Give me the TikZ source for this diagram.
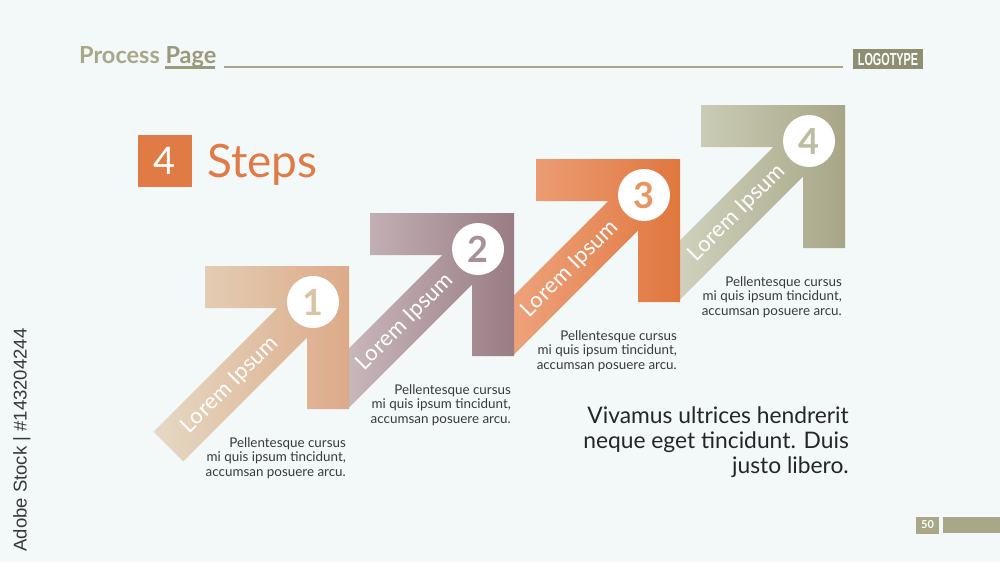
\documentclass[tikz,border=0pt]{standalone}
\usepackage{fontspec}
\setmainfont{Lato}
\newfontfamily\sidefont{Liberation Sans}
\definecolor{bg}{HTML}{F3F8F8}
\definecolor{olive}{HTML}{A8A787}
\definecolor{oliveD}{HTML}{9A997A}
\definecolor{logo}{HTML}{8E8E70}
\definecolor{orng}{HTML}{E07B45}
\definecolor{txtgray}{HTML}{3A3A3A}
\definecolor{aOl}{HTML}{E5D9C4}
\definecolor{aOr}{HTML}{DDAA88}
\definecolor{aOn}{HTML}{D9C4A6}
\definecolor{aSl}{HTML}{D0C1C5}
\definecolor{aSr}{HTML}{997C84}
\definecolor{aSn}{HTML}{A99096}
\definecolor{aTl}{HTML}{F0A985}
\definecolor{aTr}{HTML}{E0773F}
\definecolor{aTn}{HTML}{E99463}
\definecolor{aFl}{HTML}{D7D9C6}
\definecolor{aFr}{HTML}{A7A687}
\definecolor{aFn}{HTML}{BDBDA2}
\begin{document}
\begin{tikzpicture}[x=1pt,y=-1pt,
  bodytext/.style={font=\fontsize{13.4}{14.5}\selectfont, text=txtgray, align=right, inner sep=0, anchor=north east},
  lorem/.style={font=\fontsize{22}{22}\selectfont\addfontfeatures{LetterSpace=1.5}, text=white, rotate=45, inner sep=0},
  numcirc/.style={circle, fill=white, minimum size=52pt, inner sep=0, font=\fontsize{36}{36}\selectfont\bfseries},
  oliverule/.style={draw=olive, line width=2.7pt}]
\useasboundingbox (0,0) rectangle (1000,562);
\fill[bg] (0,0) rectangle (1000,562);
% header
\node[anchor=base west, inner sep=0, text=olive, font=\fontsize{23.5}{23.5}\selectfont\bfseries] (title) at (79,63) {Process \textcolor{oliveD}{Page}};
\coordinate (ul1) at (165,67.5);
\coordinate (ul2) at (215,67.5);
\draw[draw=oliveD, line width=2.5pt] (ul1) -- (ul2);
\coordinate (hl1) at (224,67);
\coordinate (hl2) at (843,67);
\draw[oliverule] (hl1) -- (hl2);
\node[fill=logo, minimum width=70pt, minimum height=20pt, inner sep=0, text=white, font=\sidefont\bfseries\fontsize{17.5}{17.5}\selectfont] (logo) at (888,59) {\scalebox{0.62}[1]{LOGOTYPE}};
% 4 Steps
\node[fill=orng, minimum width=54pt, minimum height=52pt, inner sep=0, text=white, font=\fontsize{38}{38}\selectfont] (four) at (165,161) {4};
\node[anchor=base west, inner sep=0, text=orng, font=\fontsize{46}{46}\selectfont] (steps) at (207,177) {Steps};
% arrows
\foreach \cx/\cy/\lc/\rc/\nc/\n/\tp in {845/105/aFl/aFr/aFn/4/108, 680/159/aTl/aTr/aTn/3/110, 514/213/aSl/aSr/aSn/2/109, 349/266/aOl/aOr/aOn/1/119}{
  \shade[left color=\lc, right color=\rc] ({\cx-144},\cy) -- (\cx,\cy) -- (\cx,{\cy+143}) -- ({\cx-42},{\cy+143}) -- ({\cx-42},{\cy+71.7}) -- ({\cx-165.7},{\cy+195.3}) -- ({\cx-195.3},{\cy+165.7}) -- ({\cx-71.7},{\cy+42}) -- ({\cx-144},{\cy+42}) -- cycle;
  \node[lorem] (lorem\n) at ({\cx-\tp},{\cy+\tp}) {Lorem Ipsum};
  \node[numcirc, text=\nc] (num\n) at ({\cx-36},{\cy+36}) {\n};
  \node[bodytext] (desc\n) at ({\cx-3},{\cy+171}) {Pellentesque cursus\\mi quis ipsum tincidunt,\\accumsan posuere arcu.};
}
% main text
\node[anchor=north east, align=right, inner sep=0, text=black!85, font=\fontsize{22.8}{25}\selectfont] (viv) at (849,407) {Vivamus ultrices hendrerit\\neque eget tincidunt. Duis\\justo libero.};
% page number
\node[fill=olive, minimum width=23pt, minimum height=17pt, inner sep=0, text=white, font=\fontsize{11}{11}\selectfont\bfseries] (pnum) at (927.5,525) {50};
\fill[olive] (943,517) rectangle (1000,533);
% side text
\node[rotate=90, inner sep=0, text=black!78, font=\sidefont\fontsize{18.5}{18.5}\selectfont] (stock) at (22,440) {Adobe Stock | \#143204244};
\end{tikzpicture}
\end{document}
